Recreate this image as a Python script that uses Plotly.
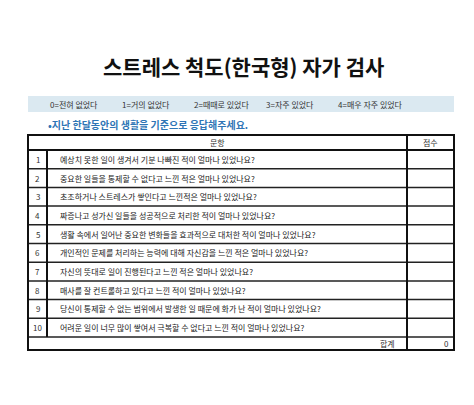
import plotly.graph_objects as go

title = "스트레스 척도(한국형) 자가 검사"
scale_labels = ["0=전혀 없었다", "1=거의 없었다", "2=때때로 있었다", "3=자주 있었다", "4=매우 자주 있었다"]
instruction = "•지난 한달동안의 생활을 기준으로 응답해주세요."
header = ["문항", "점수"]
numbers = [1, 2, 3, 4, 5, 6, 7, 8, 9, 10]
questions = [
    "예상치 못한 일이 생겨서 기분 나빠진 적이 얼마나 있었나요?",
    "중요한 일들을 통제할 수 없다고 느낀 적은 얼마나 있었나요?",
    "초조하거나 스트레스가 쌓인다고 느낀적은 얼마나 있었나요?",
    "짜증나고 성가신 일들을 성공적으로 처리한 적이 얼마나 있었나요?",
    "생활 속에서 일어난 중요한 변화들을 효과적으로 대처한 적이 얼마나 있었나요?",
    "개인적인 문제를 처리하는 능력에 대해 자신감을 느낀 적은 얼마나 있었나요?",
    "자신의 뜻대로 일이 진행된다고 느낀 적은 얼마나 있었나요?",
    "매사를 잘 컨트롤하고 있다고 느낀 적이 얼마나 있었나요?",
    "당신이 통제할 수 없는 범위에서 발생한 일 때문에 화가 난 적이 얼마나 있었나요?",
    "어려운 일이 너무 많이 쌓여서 극복할 수 없다고 느낀 적이 얼마나 있었나요?",
]
total_label = "합계"
total_value = 0

FONT = "Noto Sans CJK KR"
L, C1, C2, R = 20, 39, 399, 446
top, head_bot, row_h = 127, 142, 18.7

fig = go.Figure()
shapes, ann = [], []
thick = dict(color="#111", width=2)
thin = dict(color="#222", width=1.5)

ann.append(dict(x=235, y=58, text="<b>" + title + "</b>", showarrow=False,
                font=dict(family=FONT, size=21, color="#111")))
shapes.append(dict(type="rect", x0=L, x1=R, y0=88, y1=104, fillcolor="#dbe9f1", line_width=0))
xs = [40, 112, 184, 256, 328]
for x, s in zip(xs, scale_labels):
    ann.append(dict(x=x, y=96, text=s, showarrow=False, xanchor="left",
                    font=dict(family=FONT, size=8, color="#333")))
ann.append(dict(x=38, y=116, text="<b>" + instruction + "</b>", showarrow=False, xanchor="left",
                font=dict(family=FONT, size=10, color="#2e75b6")))

n = len(numbers)
bottom_rows = head_bot + row_h * n
bottom = bottom_rows + 13
ann.append(dict(x=(L + C2) / 2, y=(top + head_bot) / 2, text=header[0], showarrow=False,
                font=dict(family=FONT, size=8, color="#333")))
ann.append(dict(x=(C2 + R) / 2, y=(top + head_bot) / 2, text=header[1], showarrow=False,
                font=dict(family=FONT, size=8, color="#333")))
for i, (num, q) in enumerate(zip(numbers, questions)):
    y0 = head_bot + row_h * i
    yc = y0 + row_h / 2
    ann.append(dict(x=(L + C1) / 2, y=yc, text=str(num), showarrow=False,
                    font=dict(family=FONT, size=8, color="#333")))
    ann.append(dict(x=50, y=yc, text=q, showarrow=False, xanchor="left",
                    font=dict(family=FONT, size=8, color="#222")))
    shapes.append(dict(type="line", x0=L, x1=R, y0=y0 + row_h, y1=y0 + row_h, line=thin))
ann.append(dict(x=C2 - 10, y=(bottom_rows + bottom) / 2, text=total_label, showarrow=False,
                xanchor="right", font=dict(family=FONT, size=8, color="#333")))
ann.append(dict(x=R - 3, y=(bottom_rows + bottom) / 2, text=str(total_value), showarrow=False,
                xanchor="right", font=dict(family=FONT, size=8, color="#333")))

shapes.append(dict(type="rect", x0=L, x1=R, y0=top, y1=bottom, line=thick))
shapes.append(dict(type="line", x0=L, x1=R, y0=head_bot, y1=head_bot, line=thick))
shapes.append(dict(type="line", x0=C1, x1=C1, y0=head_bot, y1=bottom_rows, line=thick))
shapes.append(dict(type="line", x0=C2, x1=C2, y0=top, y1=bottom, line=thick))

fig.update_layout(
    width=474, height=405, margin=dict(l=0, r=0, t=0, b=0),
    paper_bgcolor="white", plot_bgcolor="white",
    xaxis=dict(range=[0, 474], visible=False, fixedrange=True),
    yaxis=dict(range=[405, 0], visible=False, fixedrange=True),
    shapes=shapes, annotations=ann, showlegend=False,
)
fig.write_html("out.html")
